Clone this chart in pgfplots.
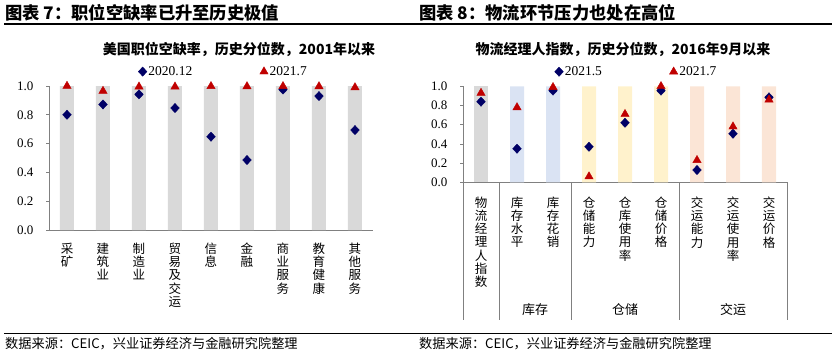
\documentclass[border=0pt]{standalone}
\usepackage{pgfplots}
\pgfplotsset{compat=1.18}
\usepackage{fontspec}
\setmainfont{Liberation Serif}
\newfontfamily\cjk{Noto Sans CJK SC}
\definecolor{navy}{RGB}{0,0,102}
\definecolor{dred}{RGB}{192,0,0}
\definecolor{bgray}{RGB}{217,217,217}
\definecolor{bblue}{RGB}{218,227,243}
\definecolor{byel}{RGB}{255,242,204}
\definecolor{bpeach}{RGB}{251,229,214}
\definecolor{axgray}{RGB}{128,128,128}
\pgfplotsset{
  common/.style={
    scale only axis, anchor=south west, width=324pt,
    xmin=-0.5, xmax=8.5, ymin=0, ymax=1,
    axis x line*=bottom, axis y line*=left,
    axis line style={draw=axgray, line width=0.8pt},
    xtick={0,...,8}, xtick style={draw=none},
    ytick={0,0.2,0.4,0.6,0.8,1},
    tick align=outside, major tick length=3pt,
    ytick style={draw=axgray, line width=0.8pt},
    /pgf/number format/assume math mode=true,
    yticklabel style={/pgf/number format/.cd, fixed, fixed zerofill, precision=1, /tikz/.cd,
      font=\fontsize{13}{13}\selectfont, xshift=-9pt},
    xticklabel style={font=\cjk\fontsize{12.5}{13.3}\selectfont, align=center, anchor=north, inner sep=0pt},
    legend style={draw=none, fill=none, legend columns=2, anchor=center,
      font=\fontsize{13.5}{13.5}\selectfont,
      /tikz/every even column/.append style={column sep=66pt},
      nodes={inner sep=1.5pt}},
    legend cell align=left,
    legend image code/.code={\draw[##1] plot coordinates {(0pt,0pt)};},
    clip=false,
  },
  dia/.style={only marks, mark=diamond*, mark size=4.6pt, mark options={xscale=1.25, fill=navy, draw=navy}, color=navy},
  tri/.style={only marks, mark=triangle*, mark size=4.8pt, mark options={fill=dred, draw=dred}, color=dred},
}
\begin{document}
\begin{tikzpicture}
\useasboundingbox (0pt,0pt) rectangle (837pt,-354pt);
% headings
\node[anchor=west, inner sep=0pt, font=\cjk\bfseries\fontsize{17.3}{17.3}\selectfont] at (5pt,-12.5pt) {图表 7：职位空缺率已升至历史极值};
\node[anchor=west, inner sep=0pt, font=\cjk\bfseries\fontsize{17.3}{17.3}\selectfont] at (419pt,-12.5pt) {图表 8：物流环节压力也处在高位};
\draw[line width=1.2pt] (4pt,-24pt) -- (832pt,-24pt);
\draw[line width=1pt] (4pt,-333pt) -- (832pt,-333pt);
\node[anchor=west, inner sep=0pt, font=\cjk\fontsize{13.2}{13.2}\selectfont] at (5pt,-343.5pt) {数据来源：CEIC，兴业证券经济与金融研究院整理};
\node[anchor=west, inner sep=0pt, font=\cjk\fontsize{13.2}{13.2}\selectfont] at (419pt,-343.5pt) {数据来源：CEIC，兴业证券经济与金融研究院整理};
% chart titles
\node[inner sep=0pt, font=\cjk\bfseries\fontsize{14}{14}\selectfont] at (239pt,-49.5pt) {美国职位空缺率，历史分位数，\textbf{2001}年以来};
\node[inner sep=0pt, font=\cjk\bfseries\fontsize{14}{14}\selectfont] at (623pt,-49.5pt) {物流经理人指数，历史分位数，\textbf{2016}年\textbf{9}月以来};

% left chart
\begin{axis}[common, at={(49pt,-230pt)}, height=144pt,
  xticklabels={{采\\矿},{建\\筑\\业},{制\\造\\业},{贸\\易\\及\\交\\运},{信\\息},{金\\融},{商\\业\\服\\务},{教\\育\\健\\康},{其\\他\\服\\务}},
  xticklabel style={yshift=-9.5pt},
  legend style={at={(0.538,1.10)}}]
\addplot[ybar, bar width=14pt, fill=bgray, draw=none, forget plot] coordinates {(0,1)(1,1)(2,1)(3,1)(4,1)(5,1)(6,1)(7,1)(8,1)};
\addplot[dia] coordinates {(0,0.80)(1,0.872)(2,0.942)(3,0.847)(4,0.648)(5,0.486)(6,0.975)(7,0.93)(8,0.694)};
\addplot[tri] coordinates {(0,1.0)(1,0.965)(2,0.995)(3,0.995)(4,0.998)(5,0.997)(6,0.998)(7,0.997)(8,0.99)};
\legend{2020.12,2021.7}
\end{axis}

% right chart
\begin{axis}[common, at={(463pt,-182.3pt)}, height=96pt,
  xticklabels={{物\\流\\经\\理\\人\\指\\数},{库\\存\\水\\平},{库\\存\\花\\销},{仓\\储\\能\\力},{仓\\库\\使\\用\\率},{仓\\储\\价\\格},{交\\运\\能\\力},{交\\运\\使\\用\\率},{交\\运\\价\\格}},
  xticklabel style={yshift=-11pt},
  legend style={at={(0.535,1.152)}}]
\addplot[ybar, bar width=14pt, fill=bgray, draw=none, forget plot] coordinates {(0,1)};
\addplot[ybar, bar width=14pt, fill=bblue, draw=none, forget plot] coordinates {(1,1)(2,1)};
\addplot[ybar, bar width=14pt, fill=byel, draw=none, forget plot] coordinates {(3,1)(4,1)(5,1)};
\addplot[ybar, bar width=14pt, fill=bpeach, draw=none, forget plot] coordinates {(6,1)(7,1)(8,1)};
\addplot[dia] coordinates {(0,0.84)(1,0.35)(2,0.955)(3,0.37)(4,0.62)(5,0.955)(6,0.128)(7,0.506)(8,0.885)};
\addplot[tri] coordinates {(0,0.93)(1,0.78)(2,0.99)(3,0.06)(4,0.71)(5,1.0)(6,0.23)(7,0.58)(8,0.86)};
\legend{2021.5,2021.7}
\draw[axgray, line width=0.8pt] (axis cs:-0.5,0) -- ++(0pt,-138pt);
\draw[axgray, line width=0.8pt] (axis cs:0.5,0) -- ++(0pt,-138pt);
\draw[axgray, line width=0.8pt] (axis cs:2.5,0) -- ++(0pt,-138pt);
\draw[axgray, line width=0.8pt] (axis cs:5.5,0) -- ++(0pt,-138pt);
\draw[axgray, line width=0.8pt] (axis cs:8.5,0) -- ++(0pt,-138pt);
\node[inner sep=0pt, font=\cjk\fontsize{13}{13}\selectfont] at ([yshift=-127pt]axis cs:1.5,0) {库存};
\node[inner sep=0pt, font=\cjk\fontsize{13}{13}\selectfont] at ([yshift=-127pt]axis cs:4,0) {仓储};
\node[inner sep=0pt, font=\cjk\fontsize{13}{13}\selectfont] at ([yshift=-127pt]axis cs:7,0) {交运};
\end{axis}
\end{tikzpicture}
\end{document}
